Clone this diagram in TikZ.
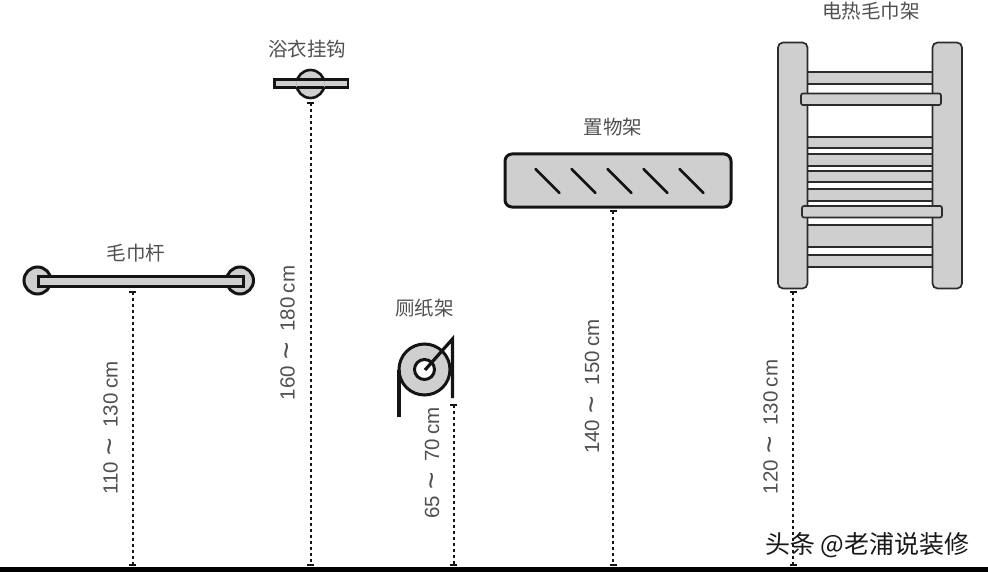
\documentclass[tikz,border=0pt]{standalone}
\usepackage{fontspec}
\setmainfont{Liberation Sans}
\newfontfamily\cjk{Noto Sans CJK SC}
\definecolor{fillg}{HTML}{CFCFCF}
\definecolor{txt}{HTML}{505050}
\definecolor{ink}{HTML}{141414}
\tikzset{
 x=1pt,y=-1pt,
 part/.style={draw=ink,fill=fillg,line width=3pt},
 railpart/.style={draw=ink!90,fill=fillg,line width=1.7pt},
 wire/.style={draw=ink,line width=3.2pt},
 title/.style={font=\fontsize{19.5}{22}\cjk,text=txt,inner sep=0pt},
 dim/.style={font=\fontsize{20.5}{22}\selectfont,text=txt,inner sep=0pt,rotate=90},
 guide/.style={draw=ink,line width=2pt,dash pattern=on 3.4pt off 2.6pt},
 capline/.style={draw=ink,line width=1.8pt},
}
\newcommand{\guideline}[3]{%
 \coordinate (#1t) at (#2,#3);
 \coordinate (#1b) at (#2,565);
 \draw[guide] (#1t) -- (#1b);
 \draw[capline] ([xshift=-3.5pt]#1t) -- ([xshift=3.5pt]#1t);
 \draw[capline] ([xshift=-3.5pt]#1b) -- ([xshift=3.5pt]#1b);
}
\newcommand{\rangetext}[2]{#1\hspace{6.5pt}\raisebox{-2pt}{\scalebox{1.45}{\char`\~}}\hspace{10.5pt}#2\hspace{4.5pt}cm}
\begin{document}
\begin{tikzpicture}
\useasboundingbox (0,0) rectangle (988,575);
\fill[white] (0,0) rectangle (988,575);
% ground
\coordinate (gl) at (0,569.5); \coordinate (gr) at (988,569.5);
\draw[line width=5pt,black] (gl) -- (gr);
% guides
\guideline{a}{132.5}{292}
\guideline{b}{310.5}{103}
\guideline{c}{453.5}{405}
\guideline{d}{613}{211}
\guideline{e}{793}{292}
% towel bar
\draw[part] (37.5,280.5) circle (13.5);
\draw[part] (240,280.5) circle (13.5);
\draw[part] (38,276) rectangle (243,286.5);
\node[title] (t1) at (136,253) {毛巾杆};
% robe hook
\draw[part,line width=2.6pt] (310.5,84) circle (14);
\draw[part,line width=2.6pt] (274.5,79.5) rectangle (348,87.5);
\draw[ink!30,line width=1pt] (296.5,81) -- (296.5,87) (324.5,81) -- (324.5,87);
\node[title] (t2) at (307,49) {浴衣挂钩};
% paper holder
\draw[part] (424.5,369.5) circle (25.5);
\draw[part,fill=white] (424.5,369.5) circle (10);
\draw[wire] (399,369.5) -- (399,417);
\draw[wire,line join=miter] (425,370) -- (452.5,339) -- (452.5,398);
\node[title] (t3) at (424.5,308) {厕纸架};
% shelf
\draw[part,rounded corners=7pt] (505,154) rectangle (731,207);
\foreach \i in {0,1,2,3,4}
 \draw[line width=2.6pt,ink,line cap=round] (535.5+36*\i,169) -- (559.5+36*\i,193);
\node[title] (t4) at (613,127) {置物架};
% heated rack
\foreach \a/\b in {72/84,137/148,154/166,171/182,189/201,225/247,255/267}
 \draw[railpart] (806,\a) rectangle (934,\b);
\draw[railpart,rounded corners=5pt] (778,42.5) rectangle (807.5,288.5);
\draw[railpart,rounded corners=5pt] (932.5,42.5) rectangle (962,288.5);
\draw[railpart,rounded corners=2pt] (801,93.5) rectangle (941,105);
\draw[railpart,rounded corners=2pt] (802,206) rectangle (942,217.5);
\node[title] (t5) at (871,11) {电热毛巾架};
% dimension labels
\node[dim] (d1) at (111.5,428) {\rangetext{110}{130}};
\node[dim] (d2) at (288.5,333) {\rangetext{160}{180}};
\node[dim] (d3) at (433,463) {\rangetext{65}{70}};
\node[dim] (d4) at (593,386.5) {\rangetext{140}{150}};
\node[dim] (d5) at (771.5,427) {\rangetext{120}{130}};
% watermark
\node[font=\fontsize{25}{28}\cjk,text=black!90,inner sep=0pt,anchor=west] (wm) at (765,545) {头条 @老浦说装修};
\end{tikzpicture}
\end{document}
